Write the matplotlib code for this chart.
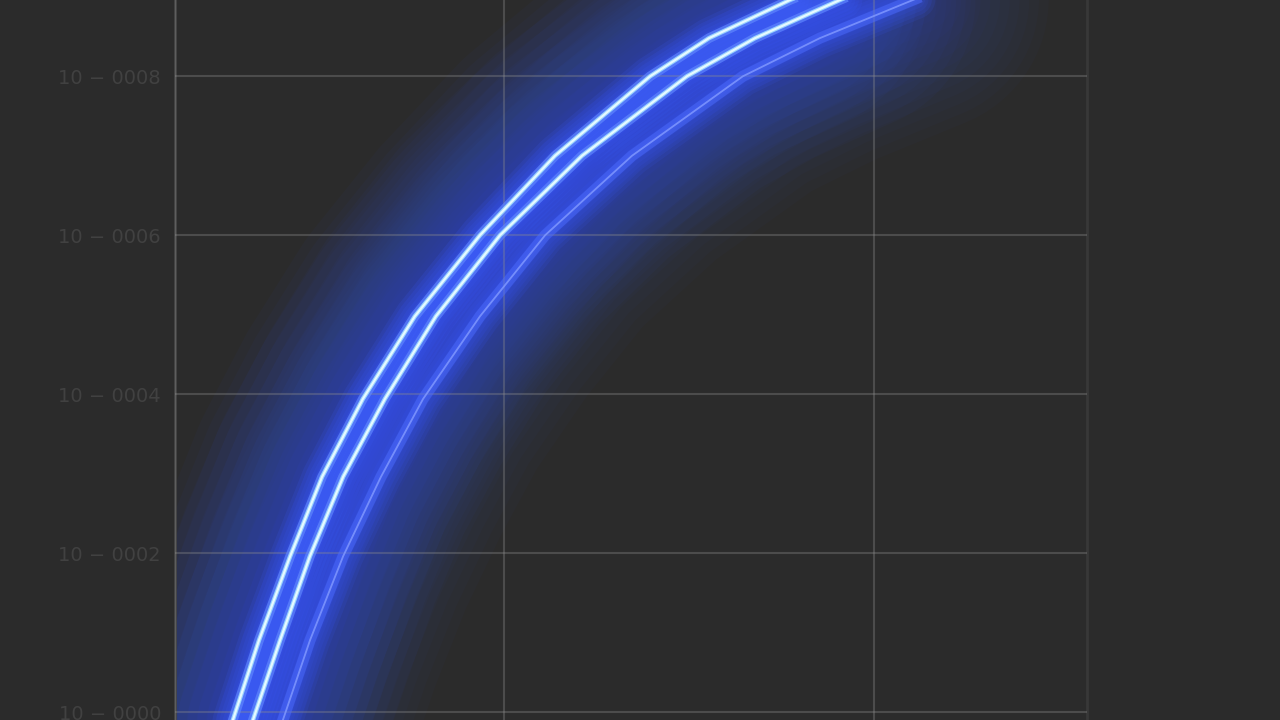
import matplotlib
matplotlib.use("Agg")
import matplotlib.pyplot as plt

# data (x position of each curve at shared y levels)
y_levels = [-0.15, -0.05, 0.45, 0.98, 1.48, 1.97, 2.49, 3.0, 3.5, 4.0, 4.24, 4.48, 4.6]
x_line1 = [0.161, 0.176, 0.255, 0.350, 0.447, 0.571, 0.729, 0.927, 1.155, 1.444, 1.623, 1.869, 2.009]
x_line2 = [0.222, 0.237, 0.319, 0.410, 0.511, 0.638, 0.793, 0.988, 1.237, 1.556, 1.763, 2.021, 2.158]
x_line3 = [0.313, 0.328, 0.410, 0.511, 0.626, 0.754, 0.927, 1.125, 1.389, 1.726, 1.960, 2.243, 2.386]

y_ticks = [0, 1, 2, 3, 4]
y_ticklabels = ["10 \u2212 0000", "10 \u2212 0002", "10 \u2212 0004", "10 \u2212 0006", "10 \u2212 0008"]
x_ticks = [0, 1, 2.125]

bg = "#2b2b2b"
fig = plt.figure(figsize=(12.8, 7.2), dpi=100, facecolor=bg)
ax = fig.add_axes([175 / 1280, 0.0, 912 / 1280, 1.0])
ax.set_facecolor(bg)


def halo(x, y, color, scale=1.0):
    # wide soft glow under the line
    for i in range(14):
        ax.plot(x, y, color=color, lw=10 + i * 14, alpha=0.03 * scale,
                solid_capstyle="round", zorder=1)
    for i in range(6):
        ax.plot(x, y, color=color, lw=4 + i * 5, alpha=0.14 * scale,
                solid_capstyle="round", zorder=1.5)


halo(x_line3, y_levels, "#3b5bff", 0.8)
halo(x_line1, y_levels, "#3b5bff")
halo(x_line2, y_levels, "#3b5bff")

# glowing bands between the curves
ax.fill_betweenx(y_levels, x_line1, x_line2, color="#3f62ff", alpha=0.55, lw=0, zorder=1.8)
ax.fill_betweenx(y_levels, x_line2, x_line3, color="#3852f5", alpha=0.3, lw=0, zorder=1.8)

# third, softer line: a band without white core
ax.plot(x_line3, y_levels, color="#4d6cff", lw=8, alpha=0.5, zorder=3)
ax.plot(x_line3, y_levels, color="#7f97ff", lw=1.3, alpha=0.85, zorder=3.2)

# bright lines with white cores
for xs in (x_line1, x_line2):
    ax.plot(xs, y_levels, color="#5f86ff", lw=7, alpha=0.7, zorder=3)
    ax.plot(xs, y_levels, color="#9fdcff", lw=3.2, alpha=0.9, zorder=3.4)
    ax.plot(xs, y_levels, color="#e6f9ff", lw=1.6, zorder=3.6)

ax.set_xlim(0, 912 / 329)
ax.set_ylim(-0.05, 4.48)
ax.set_xticks(x_ticks)
ax.set_yticks(y_ticks)
ax.set_yticklabels(y_ticklabels)
ax.set_xticklabels([])
ax.tick_params(axis="y", length=0, pad=10, labelsize=14, labelcolor="#414141")
ax.tick_params(axis="x", length=0)
ax.set_axisbelow(False)
ax.grid(True, color="#8c8c8c", alpha=0.35, lw=1.5)
for line in ax.get_xgridlines() + ax.get_ygridlines():
    line.set_zorder(2)
for side in ["top", "bottom"]:
    ax.spines[side].set_visible(False)
ax.spines["left"].set_color("#464646")
ax.spines["left"].set_linewidth(2)
ax.spines["right"].set_color("#383838")
ax.spines["right"].set_linewidth(2)

fig.savefig("out.png", dpi=100, facecolor=bg)
